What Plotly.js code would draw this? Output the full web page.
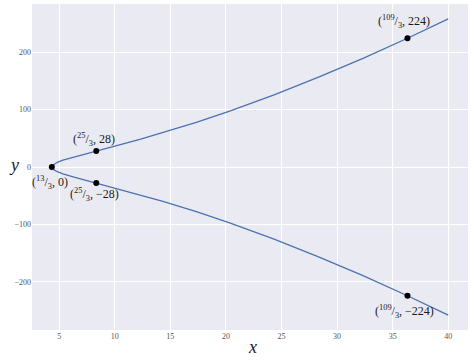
<!DOCTYPE html>
<html>
<head>
<meta charset="utf-8">
<script src="https://cdn.plot.ly/plotly-3.0.1.min.js"></script>
<style>html,body{margin:0;padding:0;background:#fff;}#chart{width:474px;height:362px;}</style>
</head>
<body>
<div id="chart"></div>
<script>
// Curve samples (upper branch, then lower branch)
var curveX = [40, 36.333, 32.333, 28.333, 24.333, 20.333, 17.333, 14.333, 12.333, 10.333, 8.333, 7.333, 6.333, 5.333, 4.833, 4.533, 4.433, 4.383, 4.343, 4.333,
              4.343, 4.383, 4.433, 4.533, 4.833, 5.333, 6.333, 7.333, 8.333, 10.333, 12.333, 14.333, 17.333, 20.333, 24.333, 28.333, 32.333, 36.333, 40];
var curveY = [257.8, 224, 189.0, 156.2, 125.5, 97.3, 77.8, 59.8, 48.7, 38.1, 28, 23.0, 17.8, 11.9, 8.2, 5.1, 3.6, 2.5, 1.1, 0,
              -1.1, -2.5, -3.6, -5.1, -8.2, -11.9, -17.8, -23.0, -28, -38.1, -48.7, -59.8, -77.8, -97.3, -125.5, -156.2, -189.0, -224, -257.8];

// Marked points
var ptX = [13/3, 25/3, 25/3, 109/3, 109/3];
var ptY = [0, 28, -28, 224, -224];
var ptLabels = ['(<sup>13</sup>/<sub>3</sub>, 0)', '(<sup>25</sup>/<sub>3</sub>, 28)', '(<sup>25</sup>/<sub>3</sub>, −28)', '(<sup>109</sup>/<sub>3</sub>, 224)', '(<sup>109</sup>/<sub>3</sub>, −224)'];
var labelDX = [-2, -2, -2, -3, -3];
var labelDY = [15, -11, 11, -17, 16];

// Axis ticks
var xTicks = [5, 10, 15, 20, 25, 30, 35, 40];
var yTicks = [-200, -100, 0, 100, 200];

var serif = 'Liberation Serif, DejaVu Serif, serif';

var annotations = ptLabels.map(function(t, i) {
  return {x: ptX[i], y: ptY[i], xref: 'x', yref: 'y', text: t, showarrow: false,
          xshift: labelDX[i], yshift: -labelDY[i],
          font: {family: serif, size: 12, color: '#1a1a1a'}};
});
annotations.push({text: '<i>x</i>', xref: 'paper', yref: 'paper', x: 0.505, y: 0, yshift: -29, showarrow: false,
                  font: {family: serif, size: 18, color: '#1a1a1a'}});
annotations.push({text: '<i>y</i>', xref: 'paper', yref: 'paper', x: 0, y: 0.505, xshift: -25, showarrow: false,
                  font: {family: serif, size: 18, color: '#1a1a1a'}});

var traces = [
  {x: curveX, y: curveY, mode: 'lines', type: 'scatter', line: {color: '#4C72B0', width: 1.3}, hoverinfo: 'skip'},
  {x: ptX, y: ptY, mode: 'markers', type: 'scatter', marker: {color: '#000', size: 6}, hoverinfo: 'skip'}
];

var layout = {
  width: 474, height: 362,
  margin: {l: 32, r: 6, t: 4, b: 32},
  paper_bgcolor: '#ffffff',
  plot_bgcolor: '#EAEAF2',
  showlegend: false,
  xaxis: {range: [2.55, 41.78], tickvals: xTicks, showgrid: true, gridcolor: '#ffffff', gridwidth: 1,
          zeroline: false, showline: false, ticks: '', tickfont: {family: serif, size: 8, color: '#555'}},
  yaxis: {range: [-283.6, 283.6], tickvals: yTicks, showgrid: true, gridcolor: '#ffffff', gridwidth: 1,
          zeroline: false, showline: false, ticks: '', tickfont: {family: serif, size: 8, color: '#555'}},
  annotations: annotations
};

Plotly.newPlot('chart', traces, layout, {staticPlot: true, displayModeBar: false});
</script>
</body>
</html>
